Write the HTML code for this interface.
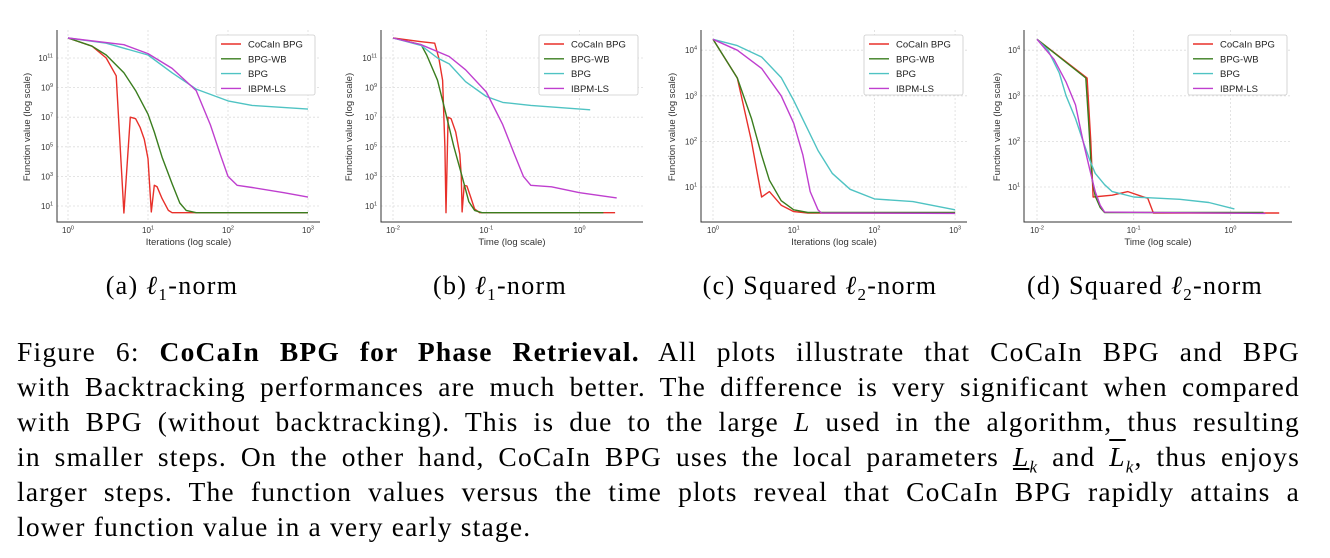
<!DOCTYPE html>
<html><head><meta charset="utf-8"><style>
body{margin:0;background:#fff;width:1330px;height:558px;overflow:hidden;position:relative}
svg{position:absolute;left:0;top:0}
sub{line-height:0}
.cap{position:absolute;left:17px;width:1283px;font-family:"Liberation Serif",serif;font-size:27.5px;letter-spacing:1.2px;line-height:35px;white-space:nowrap}
.j{text-align:justify;text-align-last:justify;white-space:normal}
.sub{position:absolute;top:271px;font-family:"Liberation Serif",serif;font-size:26px;letter-spacing:1.3px;transform:translateX(-50%);white-space:nowrap}
</style></head><body>
<svg id="fig" width="1330" height="260"></svg>
<div class="sub" style="left:172px">(a) <i>ℓ</i><sub style="font-size:17px">1</sub>-norm</div>
<div class="sub" style="left:500px">(b) <i>ℓ</i><sub style="font-size:17px">1</sub>-norm</div>
<div class="sub" style="left:820px">(c) Squared <i>ℓ</i><sub style="font-size:17px">2</sub>-norm</div>
<div class="sub" style="left:1145px">(d) Squared <i>ℓ</i><sub style="font-size:17px">2</sub>-norm</div>
<div>
<div class="cap j" style="top:334px">Figure 6: <b>CoCaIn BPG for Phase Retrieval.</b> All plots illustrate that CoCaIn BPG and BPG</div>
<div class="cap j" style="top:369px">with Backtracking performances are much better. The difference is very significant when compared</div>
<div class="cap j" style="top:404px">with BPG (without backtracking). This is due to the large <i>L</i> used in the algorithm, thus resulting</div>
<div class="cap j" style="top:439px">in smaller steps. On the other hand, CoCaIn BPG uses the local parameters <i><u>L</u><sub style="font-size:17px">k</sub></i> and <i><span style="text-decoration:overline">L</span><sub style="font-size:17px">k</sub></i>, thus enjoys</div>
<div class="cap j" style="top:474px">larger steps. The function values versus the time plots reveal that CoCaIn BPG rapidly attains a</div>
<div class="cap" style="top:509px">lower function value in a very early stage.</div>
</div>
<script>
// y values are log10 of function value
const seriesNames=["CoCaIn BPG","BPG-WB","BPG","IBPM-LS"];
const seriesColors=["#e8302a","#3a7d1e","#4fc3c3","#bf3fcf"];
// Panel a (iterations)
const aCocX=[1,2,3,4,5,6,7,8,9,10,11,12,13,15,18,20,1000];
const aCocY=[12.35,11.8,11.0,9.8,0.53,7.0,6.9,6.3,5.5,4.2,0.6,2.4,2.3,1.5,0.7,0.55,0.55];
const aWbX=[1,2,3,5,7,10,12,15,20,25,30,40,1000];
const aWbY=[12.35,11.8,11.2,10,8.8,7.2,6,4.3,2.5,1.2,0.7,0.55,0.55];
const aBpgX=[1,3,10,20,40,100,200,1000];
const aBpgY=[12.35,12.0,11.2,10.0,8.9,8.1,7.8,7.55];
const aIbX=[1,5,10,20,40,60,80,100,130,200,500,1000];
const aIbY=[12.35,11.9,11.3,10.3,8.8,6.5,4.5,3.0,2.4,2.25,1.9,1.6];
// Panel b (time)
const bCocX=[0.01,0.02,0.028,0.031,0.034,0.036,0.037,0.039,0.042,0.047,0.052,0.054,0.055,0.058,0.062,0.068,0.075,0.085,2.4];
const bCocY=[12.35,12.1,12.0,11.0,9.5,5,0.55,7.0,6.9,6.0,4.5,3,0.6,2.4,2.35,1.6,0.8,0.55,0.55];
const bWbX=[0.01,0.02,0.023,0.03,0.036,0.045,0.055,0.065,0.075,0.09,1.8];
const bWbY=[12.35,11.9,11.2,9.5,7.5,5,3,1.3,0.7,0.55,0.55];
const bBpgX=[0.01,0.02,0.03,0.04,0.06,0.1,0.15,0.3,1.3];
const bBpgY=[12.35,11.85,11.0,10.6,9.4,8.4,8.0,7.8,7.5];
const bIbX=[0.01,0.02,0.04,0.06,0.1,0.15,0.2,0.25,0.3,0.5,1,2.5];
const bIbY=[12.35,11.9,11.1,10.2,8.7,6.5,4.5,3.0,2.4,2.3,1.9,1.55];
// Panel c (iterations)
const cCocX=[1,2,3,4,5,7,10,15,1000];
const cCocY=[4.24,3.39,2.0,0.78,0.9,0.6,0.46,0.43,0.43];
const cWbX=[1,2,3,4,5,7,10,15,1000];
const cWbY=[4.24,3.39,2.5,1.7,1.15,0.7,0.5,0.44,0.44];
const cBpgX=[1,2,4,7,10,20,30,50,100,300,1000];
const cBpgY=[4.24,4.1,3.85,3.4,2.9,1.8,1.3,0.95,0.74,0.68,0.5];
const cIbX=[1,2,4,7,10,13,16,20,22,1000];
const cIbY=[4.24,4.0,3.6,3.0,2.4,1.7,0.9,0.5,0.43,0.42];
// Panel d (time)
const dCocX=[0.01,0.033,0.036,0.038,0.06,0.087,0.14,0.16,3.2];
const dCocY=[4.24,3.39,2.0,0.78,0.82,0.9,0.75,0.43,0.43];
const dWbX=[0.01,0.032,0.034,0.037,0.04,0.045,0.05,2.2];
const dWbY=[4.24,3.39,2.5,1.2,0.8,0.55,0.44,0.44];
const dBpgX=[0.01,0.013,0.017,0.02,0.025,0.03,0.035,0.04,0.05,0.06,0.1,0.3,0.6,1.1];
const dBpgY=[4.24,4.0,3.5,3.0,2.5,2.0,1.6,1.3,1.05,0.9,0.78,0.73,0.66,0.52];
const dIbX=[0.01,0.015,0.02,0.025,0.03,0.035,0.04,0.045,0.05,2.3];
const dIbY=[4.24,3.8,3.3,2.8,2.0,1.4,0.9,0.6,0.45,0.42];
const aXTicks=[0,1,2,3], bXTicks=[-2,-1,0], cXTicks=[0,1,2,3], dXTicks=[-2,-1,0];
const abYTicks=[1,3,5,7,9,11], cdYTicks=[1,2,3,4];

const NS="http://www.w3.org/2000/svg";
const svg=document.getElementById('fig');
function mk(tag,attrs,parent){const e=document.createElementNS(NS,tag);for(const k in attrs)e.setAttribute(k,attrs[k]);(parent||svg).appendChild(e);return e;}
const panels=[
 {id:'a',L:57,R:320,x0:68,xd:80,xl0:0,yb:206,yl0:1,yd:14.8,xt:aXTicks,yt:abYTicks,xlab:'Iterations (log scale)',ylabX:27,legX:216,
  s:[[aCocX,aCocY],[aWbX,aWbY],[aBpgX,aBpgY],[aIbX,aIbY]]},
 {id:'b',L:381,R:643,x0:393,xd:93.3,xl0:-2,yb:206,yl0:1,yd:14.8,xt:bXTicks,yt:abYTicks,xlab:'Time (log scale)',ylabX:349,legX:539,
  s:[[bCocX,bCocY],[bWbX,bWbY],[bBpgX,bBpgY],[bIbX,bIbY]]},
 {id:'c',L:701,R:967,x0:713,xd:80.7,xl0:0,yb:187,yl0:1,yd:45.6,xt:cXTicks,yt:cdYTicks,xlab:'Iterations (log scale)',ylabX:672,legX:864,
  s:[[cCocX,cCocY],[cWbX,cWbY],[cBpgX,cBpgY],[cIbX,cIbY]]},
 {id:'d',L:1024,R:1292,x0:1037,xd:96.7,xl0:-2,yb:187,yl0:1,yd:45.6,xt:dXTicks,yt:cdYTicks,xlab:'Time (log scale)',ylabX:997,legX:1188,
  s:[[dCocX,dCocY],[dWbX,dWbY],[dBpgX,dBpgY],[dIbX,dIbY]]}
];
const TOP=30,BOT=222;
panels.forEach(p=>{
 const g=mk('g',{});
 
 
 const xs=l=>p.x0+p.xd*(l-p.xl0);
 const ys=l=>p.yb-(l-p.yl0)*p.yd;
 p.xt.forEach(t=>{
  const x=xs(t);
  const gl=mk('line',{x1:x,x2:x,y1:TOP,y2:BOT,stroke:'#dcdcdc','stroke-width':0.8,'stroke-dasharray':'2,2'},g);
  
  
  const tx=mk('text',{x:x,y:BOT+11,'font-size':8,'font-family':'Liberation Sans, sans-serif','text-anchor':'middle',fill:'#333'},g);
  
  
  tx.innerHTML='10<tspan font-size="5.5" dy="-3.5">'+t+'</tspan>';
 });
 p.yt.forEach(t=>{
  const y=ys(t);
  const gl=mk('line',{x1:p.L,x2:p.R,y1:y,y2:y,stroke:'#dcdcdc','stroke-width':0.8,'stroke-dasharray':'2,2'},g);
  
  
  const tx=mk('text',{x:p.L-4,y:y+3,'font-size':8,'font-family':'Liberation Sans, sans-serif','text-anchor':'end',fill:'#333'},g);
  
  
  tx.innerHTML='10<tspan font-size="5.5" dy="-3.5">'+t+'</tspan>';
 });
 p.s.forEach((sr,i)=>{
  const pts=sr[0].map((x,k)=>xs(Math.log10(x)).toFixed(1)+','+ys(sr[1][k]).toFixed(1)).join(' ');
  const pl=mk('polyline',{points:pts,fill:'none',stroke:seriesColors[i],'stroke-width':1.4,'stroke-linejoin':'round'},g);
  
  
 });
 const ax=mk('path',{d:`M${p.L},${TOP} V${BOT} H${p.R}`,fill:'none',stroke:'#333','stroke-width':1},g);
 
 
 const xl=mk('text',{x:(p.L+p.R)/2,y:245,'font-size':9.5,'font-family':'Liberation Sans, sans-serif','text-anchor':'middle',fill:'#333'},g);
 
 
 xl.textContent=p.xlab;
 const yl=mk('text',{x:0,y:0,'font-size':9.5,'font-family':'Liberation Sans, sans-serif','text-anchor':'middle',fill:'#333',transform:`translate(${p.ylabX+3},127) rotate(-90)`},g);
 
 
 yl.textContent='Function value (log scale)';
 const lg=mk('g',{},g);
 
 
 mk('rect',{x:p.legX,y:35,width:99,height:60,rx:2,fill:'#fff',stroke:'#ccc','stroke-width':0.8},lg);
 seriesNames.forEach((n,i)=>{
  const y=44+i*14.8;
  const e=mk('g',{},lg);
  
  
  mk('line',{x1:p.legX+5,x2:p.legX+25,y1:y,y2:y,stroke:seriesColors[i],'stroke-width':1.4},e);
  const t=mk('text',{x:p.legX+32,y:y+3.5,'font-size':9.5,'font-family':'Liberation Sans, sans-serif',fill:'#222'},e);
  t.textContent=n;
 });
});
</script>
</body></html>
